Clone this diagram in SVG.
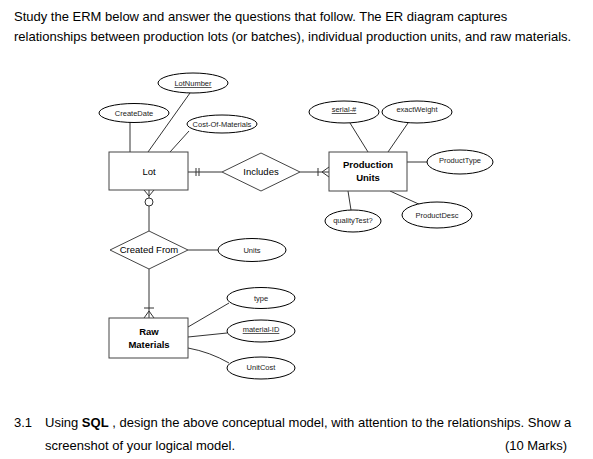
<svg xmlns="http://www.w3.org/2000/svg" width="593" height="459" viewBox="0 0 593 459">
<style>
.t{font-family:"Liberation Sans",Arial,sans-serif;font-size:13px;fill:#000}
.a{font-family:"Liberation Sans",Arial,sans-serif;font-size:7.5px;fill:#222;text-anchor:middle}
.e{fill:#fff;stroke:#000;stroke-width:1}
.b{fill:#fff;stroke:#444;stroke-width:1}
.n{font-family:"Liberation Sans",Arial,sans-serif;font-size:9.5px;fill:#000;text-anchor:middle}
.nb{font-family:"Liberation Sans",Arial,sans-serif;font-size:9.5px;font-weight:bold;fill:#000;text-anchor:middle}
.c{stroke:#333;stroke-width:1;fill:none}
</style>
<rect width="593" height="459" fill="#fff"/>
<text class="t" x="14" y="21">Study the ERM below and answer the questions that follow. The ER diagram captures</text>
<text class="t" x="14" y="41">relationships between production lots (or batches), individual production units, and raw materials.</text>
<g id="connectors">
<line class="c" x1="130" y1="122" x2="130" y2="152"/>
<line class="c" x1="190" y1="93" x2="148" y2="152"/>
<line class="c" x1="189" y1="131" x2="170" y2="152"/>
<line class="c" x1="188" y1="172" x2="222" y2="172"/>
<line class="c" x1="196" y1="168" x2="196" y2="176"/>
<line class="c" x1="199" y1="168" x2="199" y2="176"/>
<line class="c" x1="300" y1="172" x2="329" y2="172"/>
<line class="c" x1="318" y1="168" x2="318" y2="176"/>
<line class="c" x1="322" y1="172" x2="329" y2="167"/>
<line class="c" x1="322" y1="172" x2="329" y2="177"/>
<line class="c" x1="350" y1="123" x2="368" y2="152"/>
<line class="c" x1="408" y1="123" x2="388" y2="152"/>
<line class="c" x1="407" y1="162" x2="427" y2="162"/>
<line class="c" x1="348" y1="191" x2="351" y2="210"/>
<line class="c" x1="390" y1="191" x2="423" y2="206"/>
<line class="c" x1="149" y1="190" x2="149" y2="198"/>
<line class="c" x1="149" y1="196" x2="144" y2="190"/>
<line class="c" x1="149" y1="196" x2="154" y2="190"/>
<circle cx="149" cy="202" r="4" fill="#fff" stroke="#333"/>
<line class="c" x1="149" y1="206" x2="149" y2="231"/>
<line class="c" x1="188" y1="250" x2="218" y2="250"/>
<line class="c" x1="149" y1="269" x2="149" y2="318"/>
<line class="c" x1="144" y1="308" x2="154" y2="308"/>
<line class="c" x1="149" y1="311" x2="144" y2="318"/>
<line class="c" x1="149" y1="311" x2="154" y2="318"/>
<line class="c" x1="188" y1="327" x2="229" y2="303"/>
<line class="c" x1="188" y1="337" x2="227" y2="333"/>
<path class="c" d="M188 348 Q210 352 229 363"/>
</g>
<g id="LotNumber"><ellipse class="e" cx="193" cy="83" rx="35" ry="10"/><text class="a" x="193" y="86" text-decoration="underline">LotNumber</text></g>
<g id="CreateDate"><ellipse class="e" cx="134" cy="113" rx="35" ry="9.5"/><text class="a" x="134" y="116">CreateDate</text></g>
<g id="CostOfMaterials"><ellipse class="e" cx="222" cy="124" rx="35" ry="9"/><text class="a" x="222" y="127">Cost-Of-Materials</text></g>
<g id="Lot"><rect class="b" x="109" y="152" width="79" height="38"/><text class="n" x="149" y="175">Lot</text></g>
<g id="Includes"><polygon class="b" points="222,172 261,153 300,172 261,191"/><text class="n" x="261" y="175">Includes</text></g>
<g id="ProductionUnits"><rect class="b" x="329" y="152" width="78" height="39"/><text class="nb" x="368" y="168">Production</text><text class="nb" x="368" y="181">Units</text></g>
<g id="serial"><ellipse class="e" cx="344" cy="112" rx="35" ry="11"/><text class="a" x="344" y="112" text-decoration="underline">serial-#</text></g>
<g id="exactWeight"><ellipse class="e" cx="417" cy="112" rx="35" ry="11"/><text class="a" x="417" y="112">exactWeight</text></g>
<g id="ProductType"><ellipse class="e" cx="460" cy="162" rx="33" ry="12"/><text class="a" x="460" y="163">ProductType</text></g>
<g id="qualityTest"><ellipse class="e" cx="353" cy="221" rx="28" ry="11"/><text class="a" x="353" y="223">qualityTest?</text></g>
<g id="ProductDesc"><ellipse class="e" cx="437" cy="215" rx="35" ry="13"/><text class="a" x="437" y="218">ProductDesc</text></g>
<g id="CreatedFrom"><polygon class="b" points="110,250 149,231 188,250 149,269"/><text class="n" x="149" y="253" font-size="10.5">Created From</text></g>
<g id="Units"><ellipse class="e" cx="252" cy="250" rx="34" ry="11.5"/><text class="a" x="252" y="253">Units</text></g>
<g id="RawMaterials"><rect class="b" x="109" y="318" width="79" height="40"/><text class="nb" x="149" y="335">Raw</text><text class="nb" x="149" y="348">Materials</text></g>
<g id="type"><ellipse class="e" cx="261" cy="298" rx="34" ry="10.5"/><text class="a" x="261" y="301">type</text></g>
<g id="materialID"><ellipse class="e" cx="261" cy="331" rx="34" ry="11"/><text class="a" x="261" y="332" text-decoration="underline">material-ID</text></g>
<g id="UnitCost"><ellipse class="e" cx="261" cy="368" rx="34" ry="11"/><text class="a" x="261" y="370">UnitCost</text></g>
<text class="t" x="14" y="427">3.1</text>
<text class="t" x="45" y="427">Using <tspan font-weight="bold">SQL</tspan> , design the above conceptual model, with attention to the relationships. Show a</text>
<text class="t" x="45" y="450">screenshot of your logical model.</text>
<text class="t" x="567" y="450" text-anchor="end">(10 Marks)</text>
</svg>
